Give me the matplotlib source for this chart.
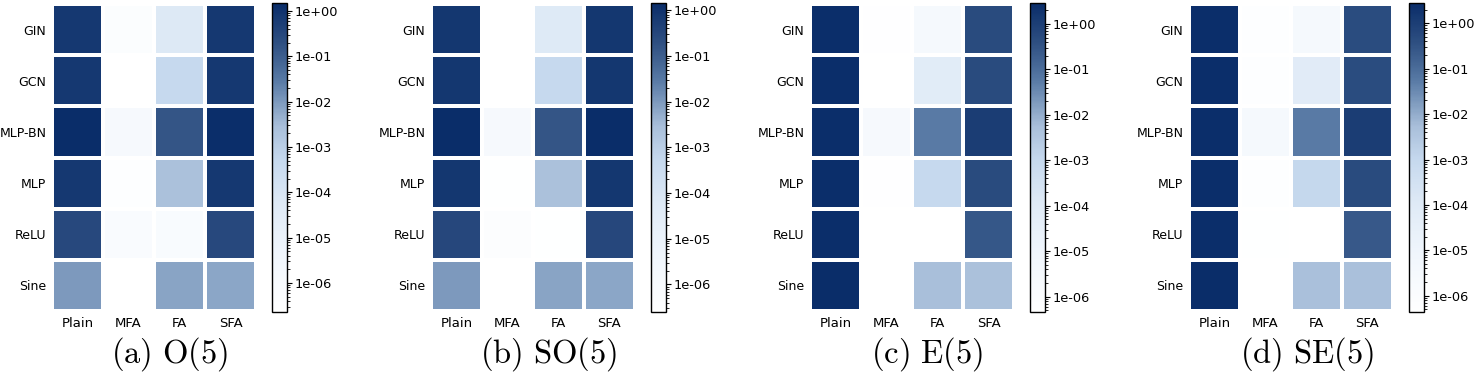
import matplotlib
matplotlib.use("Agg")
import matplotlib.pyplot as plt
import numpy as np
from matplotlib.colors import LogNorm, LinearSegmentedColormap

# rows / columns of every heatmap
models = ["GIN", "GCN", "MLP-BN", "MLP", "ReLU", "Sine"]
methods = ["Plain", "MFA", "FA", "SFA"]
captions = [r"$\mathrm{(a)\ O(5)}$", r"$\mathrm{(b)\ SO(5)}$",
            r"$\mathrm{(c)\ E(5)}$", r"$\mathrm{(d)\ SE(5)}$"]

o5 = [[0.8, 5e-7, 6.6e-5, 0.8],
      [0.8, 2.3e-7, 5e-4, 0.8],
      [1.5, 1.5e-6, 0.15, 1.4],
      [0.8, 3.5e-7, 2.5e-3, 0.8],
      [0.3, 8e-7, 9e-7, 0.3],
      [1e-2, 2.3e-7, 7e-3, 6.5e-3]]
so5 = [[0.8, 2.5e-7, 6e-5, 0.8],
       [0.8, 2.5e-7, 5e-4, 0.8],
       [1.43, 1.5e-6, 0.15, 1.4],
       [0.8, 3e-7, 2.5e-3, 0.8],
       [0.3, 5e-7, 3e-7, 0.3],
       [1e-2, 2.5e-7, 7e-3, 6.5e-3]]
e5 = [[2.6, 6e-7, 3.5e-6, 0.5],
      [2.6, 5e-7, 8e-5, 0.5],
      [2.6, 3e-6, 5.7e-2, 1.1],
      [2.6, 6e-7, 1e-3, 0.5],
      [2.6, 5e-7, 4.6e-7, 0.27],
      [2.9, 4.6e-7, 5.5e-3, 5e-3]]
se5 = [[2.6, 6e-7, 3.5e-6, 0.45],
       [2.6, 6e-7, 8e-5, 0.45],
       [2.6, 3e-6, 5.5e-2, 1.1],
       [2.6, 6e-7, 1e-3, 0.5],
       [2.6, 5e-7, 4.4e-7, 0.25],
       [2.8, 4.4e-7, 5e-3, 5e-3]]
tables = [o5, so5, e5, se5]

# washed-out blues, white -> navy
cmap = LinearSegmentedColormap.from_list(
    "soft_blues",
    [(0.0, "#ffffff"), (0.2, "#eff5fc"), (0.35, "#dfeaf6"), (0.49, "#c6d9ee"),
     (0.6, "#a9bfda"), (0.75, "#587aa5"), (0.87, "#2f5082"), (1.0, "#0a2d69")])

W, H = 1475, 380
fig = plt.figure(figsize=(W / 100, H / 100), dpi=100)

heat_left = [52, 431, 810, 1189]
hw, top, bottom = 204, 4, 311
for i, data in enumerate(tables):
    arr = np.array(data)
    ax = fig.add_axes([heat_left[i] / W, 1 - bottom / H, hw / W, (bottom - top) / H])
    norm = LogNorm(vmin=arr.min(), vmax=arr.max())
    mesh = ax.pcolormesh(arr, cmap=cmap, norm=norm, edgecolors="white", linewidth=1.5)
    ax.set_xlim(0, len(methods))
    ax.set_ylim(len(models), 0)
    ax.set_xticks(np.arange(len(methods)) + 0.5)
    ax.set_xticklabels(methods, fontsize=9.5)
    ax.set_yticks(np.arange(len(models)) + 0.5)
    ax.set_yticklabels(models, fontsize=9)
    ax.tick_params(length=0, pad=4)
    for s in ax.spines.values():
        s.set_visible(False)

    cb_left = heat_left[i] + 220
    cax = fig.add_axes([cb_left / W, 1 - 312 / H, 15 / W, 309 / H])
    cb = fig.colorbar(mesh, cax=cax, format="%.0e")
    cb.outline.set_linewidth(1.0)
    cb.ax.tick_params(labelsize=9.3, pad=2)

    cx = (heat_left[i] + cb_left + 15) / 2
    fig.text(cx / W, 1 - 354 / H, captions[i], ha="center", va="center",
             fontsize=23.5, math_fontfamily="cm")

fig.savefig("out.png", dpi=100)
